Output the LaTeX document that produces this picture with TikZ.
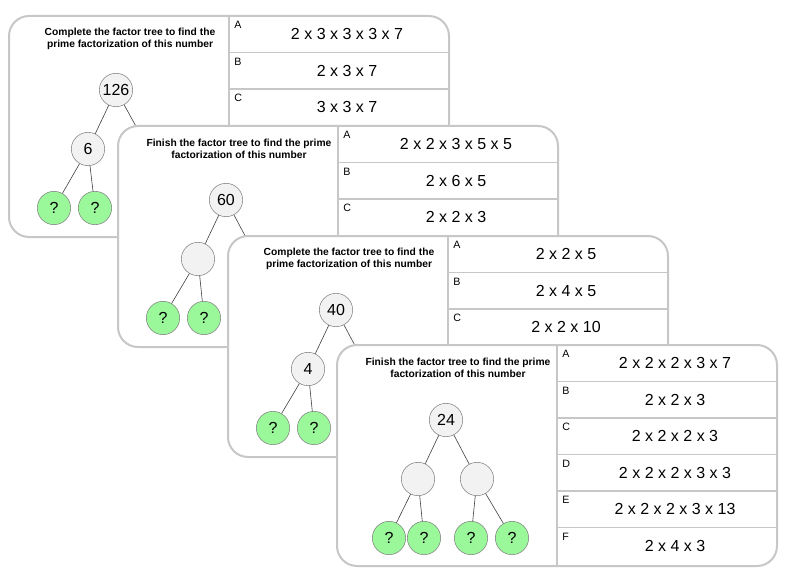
\documentclass[tikz,border=0pt]{standalone}
\usepackage{fontspec}
\setmainfont{Liberation Sans}
\begin{document}
\begin{tikzpicture}[x=0.75pt,y=-0.75pt,
  card/.style={draw=black!22,line width=1.5pt,fill=white,rounded corners=15pt},
  sep/.style={draw=black!22,line width=1.2pt},
  nd/.style={circle,draw=black!50,line width=0.4pt,fill=black!5,minimum size=25pt,inner sep=0pt,font=\fontsize{12}{12}\selectfont},
  lf/.style={nd,fill=palegreen},
  edge/.style={draw=black!75,line width=0.45pt},
  ttl/.style={align=center,font=\fontsize{7.7}{8.8}\selectfont\bfseries},
  lab/.style={font=\fontsize{8}{8}\selectfont,anchor=north west,inner sep=0pt},
  ans/.style={font=\fontsize{12}{12}\selectfont}]
\definecolor{palegreen}{HTML}{9AF79A}
\useasboundingbox (0,0) rectangle (800,585);
% ---------- card 1
\begin{scope}[shift={(9,16)}]
\path[card] (0,0) rectangle (440,221);
\draw[sep] (220,0) -- (220,221);
\foreach \i in {1,2,3} \draw[sep] (220,36.5*\i) -- (440,36.5*\i);
\node[ttl] (a-t) at (121,23) {Complete the factor tree to find the\\prime factorization of this number};
\node[lab] (a-la) at (225,5) {A}; \node[ans] (a-a) at (338,18) {2 x 3 x 3 x 3 x 7};
\node[lab] (a-lb) at (225,41.5) {B}; \node[ans] (a-b) at (338,55) {2 x 3 x 7};
\node[lab] (a-lc) at (225,78) {C}; \node[ans] (a-c) at (338,91) {3 x 3 x 7};
\node[nd] (a-r) at (107,74) {126};
\node[nd] (a-m) at (79,133) {6};
\coordinate (a-h) at (140,134);
\node[lf] (a-1) at (45,192) {?};
\node[lf] (a-2) at (86,192) {?};
\draw[edge] (a-r) -- (a-m); \draw[edge] (a-r) -- (a-h);
\draw[edge] (a-m) -- (a-1); \draw[edge] (a-m) -- (a-2);
\end{scope}
% ---------- card 2
\begin{scope}[shift={(118,126)}]
\path[card] (0,0) rectangle (440,221);
\draw[sep] (220,0) -- (220,221);
\foreach \i in {1,2,3} \draw[sep] (220,36.5*\i) -- (440,36.5*\i);
\node[ttl] (b-t) at (121,23) {Finish the factor tree to find the prime\\factorization of this number};
\node[lab] (b-la) at (225,5) {A}; \node[ans] (b-a) at (338,18) {2 x 2 x 3 x 5 x 5};
\node[lab] (b-lb) at (225,41.5) {B}; \node[ans] (b-b) at (338,55) {2 x 6 x 5};
\node[lab] (b-lc) at (225,78) {C}; \node[ans] (b-c) at (338,91) {2 x 2 x 3};
\node[nd] (b-r) at (108,74) {60};
\node[nd] (b-m) at (80,133) {};
\coordinate (b-h) at (140,134);
\node[lf] (b-1) at (45,192) {?};
\node[lf] (b-2) at (86,192) {?};
\draw[edge] (b-r) -- (b-m); \draw[edge] (b-r) -- (b-h);
\draw[edge] (b-m) -- (b-1); \draw[edge] (b-m) -- (b-2);
\end{scope}
% ---------- card 3
\begin{scope}[shift={(228,236)}]
\path[card] (0,0) rectangle (440,221);
\draw[sep] (220,0) -- (220,221);
\foreach \i in {1,2,3} \draw[sep] (220,36.5*\i) -- (440,36.5*\i);
\node[ttl] (c-t) at (121,23) {Complete the factor tree to find the\\prime factorization of this number};
\node[lab] (c-la) at (225,5) {A}; \node[ans] (c-a) at (338,18) {2 x 2 x 5};
\node[lab] (c-lb) at (225,41.5) {B}; \node[ans] (c-b) at (338,55) {2 x 4 x 5};
\node[lab] (c-lc) at (225,78) {C}; \node[ans] (c-c) at (338,91) {2 x 2 x 10};
\node[nd] (c-r) at (108,74) {40};
\node[nd] (c-m) at (80,133) {4};
\coordinate (c-h) at (140,134);
\node[lf] (c-1) at (45,192) {?};
\node[lf] (c-2) at (86,192) {?};
\draw[edge] (c-r) -- (c-m); \draw[edge] (c-r) -- (c-h);
\draw[edge] (c-m) -- (c-1); \draw[edge] (c-m) -- (c-2);
\end{scope}
% ---------- card 4
\begin{scope}[shift={(337,345)}]
\path[card] (0,0) rectangle (440,221);
\draw[sep] (220,0) -- (220,221);
\foreach \i in {1,...,5} \draw[sep] (220,36.5*\i) -- (440,36.5*\i);
\node[ttl] (d-t) at (121,23) {Finish the factor tree to find the prime\\factorization of this number};
\node[lab] (d-la) at (225,5) {A}; \node[ans] (d-a) at (338,18) {2 x 2 x 2 x 3 x 7};
\node[lab] (d-lb) at (225,41.5) {B}; \node[ans] (d-b) at (338,55) {2 x 2 x 3};
\node[lab] (d-lc) at (225,78) {C}; \node[ans] (d-c) at (338,91) {2 x 2 x 2 x 3};
\node[lab] (d-ld) at (225,114.5) {D}; \node[ans] (d-d) at (338,128) {2 x 2 x 2 x 3 x 3};
\node[lab] (d-le) at (225,151) {E}; \node[ans] (d-e) at (338,164) {2 x 2 x 2 x 3 x 13};
\node[lab] (d-lf) at (225,187.5) {F}; \node[ans] (d-f) at (338,201) {2 x 4 x 3};
\node[nd] (d-r) at (109,75) {24};
\node[nd] (d-m) at (81,134) {};
\node[nd] (d-n) at (140,134) {};
\node[lf] (d-1) at (52,193) {?};
\node[lf] (d-2) at (87,193) {?};
\node[lf] (d-3) at (134,193) {?};
\node[lf] (d-4) at (175,193) {?};
\draw[edge] (d-r) -- (d-m); \draw[edge] (d-r) -- (d-n);
\draw[edge] (d-m) -- (d-1); \draw[edge] (d-m) -- (d-2);
\draw[edge] (d-n) -- (d-3); \draw[edge] (d-n) -- (d-4);
\end{scope}
\end{tikzpicture}
\end{document}
